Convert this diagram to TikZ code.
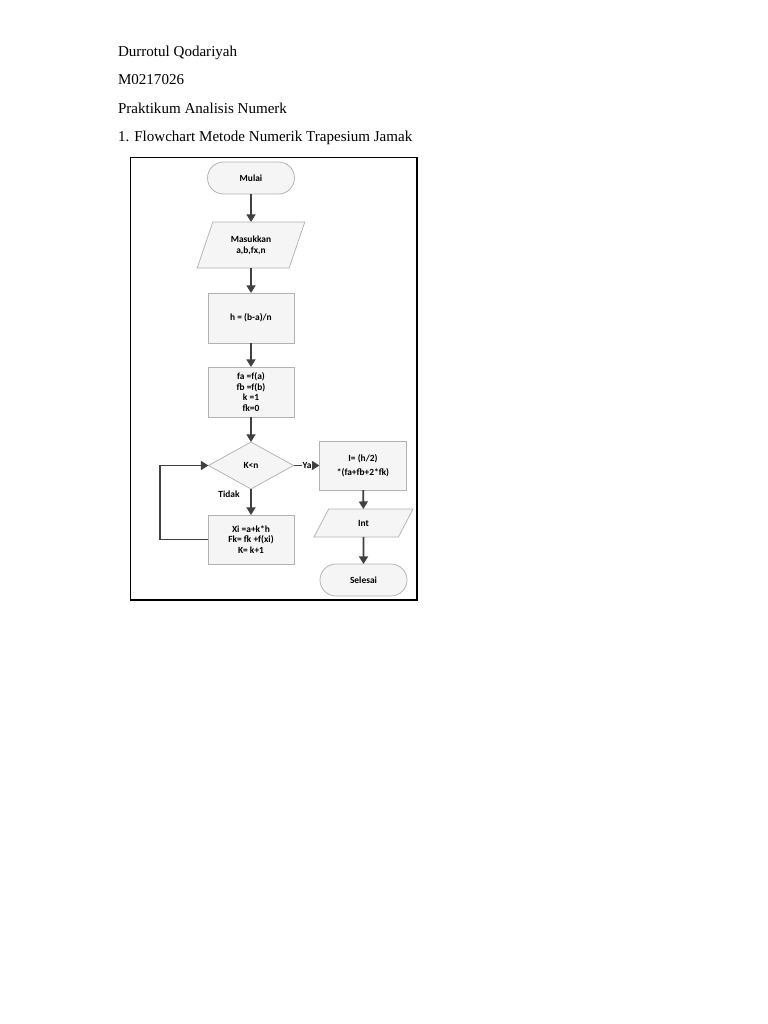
\documentclass[tikz,border=0pt]{standalone}
\usepackage{fontspec}
\setmainfont{Liberation Serif}
\newfontfamily\boxfont{Carlito}
\usetikzlibrary{shapes.geometric,shapes.misc,arrows.meta}
\newdimen\pxu \pxu=0.796875pt
\begin{document}
\begin{tikzpicture}[x=0.796875pt,y=-0.796875pt,
  every node/.style={inner sep=0pt, outer sep=0pt},
  hdr/.style={anchor=base west, font=\fontsize{12}{14}\selectfont},
  blk/.style={draw=gray!60, fill=gray!8, line width=0.6pt, align=center,
    font=\boxfont\bfseries\fontsize{7.5}{8.5}\selectfont},
  procbox/.style={blk, rectangle, minimum width=86\pxu, minimum height=50\pxu},
  termbox/.style={blk, rounded rectangle, minimum width=87\pxu, minimum height=32\pxu},
  iobox/.style={blk, trapezium, trapezium stretches=true},
  decbox/.style={blk, diamond, minimum width=85\pxu, minimum height=47\pxu},
  flow/.style={draw=black!75, line width=1.5pt, -{Triangle[length=6pt,width=7pt]}},
  lbl/.style={font=\boxfont\bfseries\fontsize{7.5}{8.5}\selectfont}
]
\useasboundingbox (0,0) rectangle (768,1024);
\fill[white] (0,0) rectangle (768,1024);

\node[hdr] (t1) at (118,57) {Durrotul Qodariyah};
\node[hdr] (t2) at (118,85) {M0217026};
\node[hdr] (t3) at (118,113) {Praktikum Analisis Numerk};
\node[hdr] (t4) at (118,141) {1. Flowchart Metode Numerik Trapesium Jamak};

\draw[line width=1pt] (130.5,157.5) rectangle (417,600);

\node[termbox] (mulai) at (251,178) {Mulai};
\node[iobox, trapezium left angle=66, trapezium right angle=114,
  minimum width=108\pxu, minimum height=46\pxu] (input) at (251,245) {Masukkan\\a,b,fx,n};
\node[procbox] (hbox) at (251,318) {h = (b-a)/n};
\node[procbox] (init) at (251,392) {fa =f(a)\\fb =f(b)\\k =1\\fk=0};
\node[decbox] (dec) at (251,465.5) {K<n};
\node[procbox, minimum height=49\pxu] (loop) at (251,539.5) {Xi =a+k*h\\Fk= fk +f(xi)\\K= k+1};
\node[procbox, minimum width=87\pxu, minimum height=49\pxu] (res) at (363,465.5) {I= (h/2)\\[2.5pt]*(fa+fb+2*fk)};
\node[iobox, trapezium left angle=70, trapezium right angle=110,
  minimum width=99\pxu, minimum height=28\pxu] (out) at (363.5,523) {Int};
\node[termbox] (selesai) at (363.5,580) {Selesai};

\coordinate (lb) at (160,539.5);
\coordinate (lt) at (160,465.5);

\draw[flow] (mulai) -- (input);
\draw[flow] (input) -- (hbox);
\draw[flow] (hbox) -- (init);
\draw[flow] (init) -- (dec);
\draw[flow] (dec) -- (loop);
\draw[flow] (dec) -- node[lbl, fill=white, inner xsep=0.4pt, pos=0.52] (ya) {Ya} (res);
\draw[flow] (loop.west) -- (lb) -- (lt) -- (dec.west);
\draw[flow] (res) -- (out);
\draw[flow] (out) -- (selesai);

\node[lbl] (tidak) at (229,494) {Tidak};
\end{tikzpicture}
\end{document}
